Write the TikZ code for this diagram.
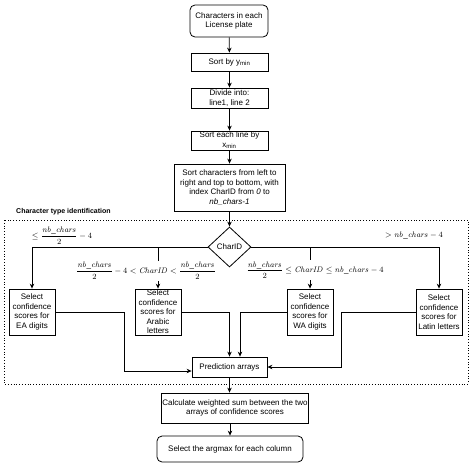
\documentclass[tikz,border=0pt]{standalone}
\usepackage{amsmath,amssymb}
\usepackage[no-math]{fontspec}
\setmainfont{Liberation Sans}
\usepackage{tikz}
\usetikzlibrary{shapes.geometric}
\usetikzlibrary{arrows.meta}
\tikzset{
  box/.style={draw, thick, align=center, inner sep=1pt, font=\fontsize{8}{9.5}\selectfont},
  rbox/.style={box, rounded corners=5pt},
  arr/.style={thick, -{Stealth[length=5pt,width=4.5pt]}},
  lbl/.style={inner sep=1pt, font=\fontsize{8}{9.5}\selectfont},
}
\newcommand{\nbc}{\mathit{nb\_chars}}
\newcommand{\selbox}[4]{ \node[box, minimum width=46pt, minimum height=46pt] (#1) at (#2,#3) {#4};}

\begin{document}
\begin{tikzpicture}[x=1pt,y=-1pt]
        \useasboundingbox (0,0) rectangle (474,466);

        % sorting column
        \node[rbox, minimum width=78pt, minimum height=32pt] (start) at (229,21) {Characters in each\\License plate};
        \node[box, minimum width=77pt, minimum height=18pt] (ymin) at (229.5,62) {Sort by y\textsubscript{min}};
        \node[box, minimum width=77pt, minimum height=20pt] (divide) at (229.5,98) {Divide into:\\line1, line 2};
        \node[box, minimum width=77pt, minimum height=19pt] (xmin) at (229.5,140.5) {Sort each line by\\x\textsubscript{min}};
        \node[box, minimum width=111pt, minimum height=47pt] (order) at (229.5,187.5) {Sort characters from left to\\right and top to bottom, with\\index CharID from \textit{0} to\\\textit{nb\_chars-1}};

        \draw[arr] (start) -- (ymin);
        \draw[arr] (ymin) -- (divide);
        \draw[arr] (divide) -- (xmin);
        \draw[arr] (xmin) -- (order);

        % type identification
        \draw[thick, dotted] (4,220) rectangle (468,384);
        \node[anchor=west, inner sep=0, font=\fontsize{7}{8}\selectfont\bfseries] (title) at (16,212) {Character type identification};

        \node[draw, thick, diamond, minimum width=43pt, minimum height=40pt, inner sep=0, font=\fontsize{8}{9.5}\selectfont] (chr) at (229.5,247) {CharID};
        \draw[arr] (order) -- (chr);

        \selbox{ea}{32}{312}{Select\\confidence\\scores for\\EA digits}
        \selbox{arab}{158}{312}{Select\\confidence\\scores for\\Arabic\\letters}
        \selbox{wa}{310}{312}{Select\\confidence\\scores for\\WA digits}
        \selbox{lat}{439}{312}{Select\\confidence\\scores for\\Latin letters}

        \coordinate (brA) at (arab.north |- chr.west);
        \coordinate (brW) at (wa.north |- chr.east);

        \draw[arr] (chr.west) -| (ea.north);
        \draw[arr] (chr.east) -| (lat.north);
        \draw[arr] (brA) -- (arab.north);
        \draw[arr] (brW) -- (wa.north);

        \node[lbl] (l1) at (62,236) {$\leq \dfrac{\nbc}{2} - 4$};
        \node[lbl, fill=white] (l2) at (146,271) {$\dfrac{\nbc}{2} - 4 < \mathit{CharID} < \dfrac{\nbc}{2}$};
        \node[lbl, fill=white] (l3) at (315,270) {$\dfrac{\nbc}{2} \leq \mathit{CharID} \leq \nbc - 4$};
        \node[lbl] (l4) at (414,236) {$> \nbc - 4$};

        \node[box, minimum width=75pt, minimum height=20pt] (pred) at (229.5,367) {Prediction arrays};

        \coordinate (eaIn) at ([yshift=-4pt]pred.west);
        \draw[arr] (ea.east) -- ++(69,0) |- (eaIn);
        \draw[arr] (arab.east) -| (pred.north);
        \draw[arr] (wa.west) -| ([xshift=10.5pt]pred.north);
        \draw[arr] (lat.west) -- ++(-74,0) |- (pred.east);

        % final steps
        \node[box, minimum width=138pt, minimum height=30pt] (calc) at (235,408) {Calculate weighted sum between the two\\arrays of confidence scores};
        \node[rbox, minimum width=146pt, minimum height=26pt] (argmax) at (230,449) {Select the argmax for each column};

        \draw[arr] (pred.south) -- (pred.south |- calc.north);
        \draw[arr] (argmax.north |- calc.south) -- (argmax.north);

\end{tikzpicture}
\end{document}
